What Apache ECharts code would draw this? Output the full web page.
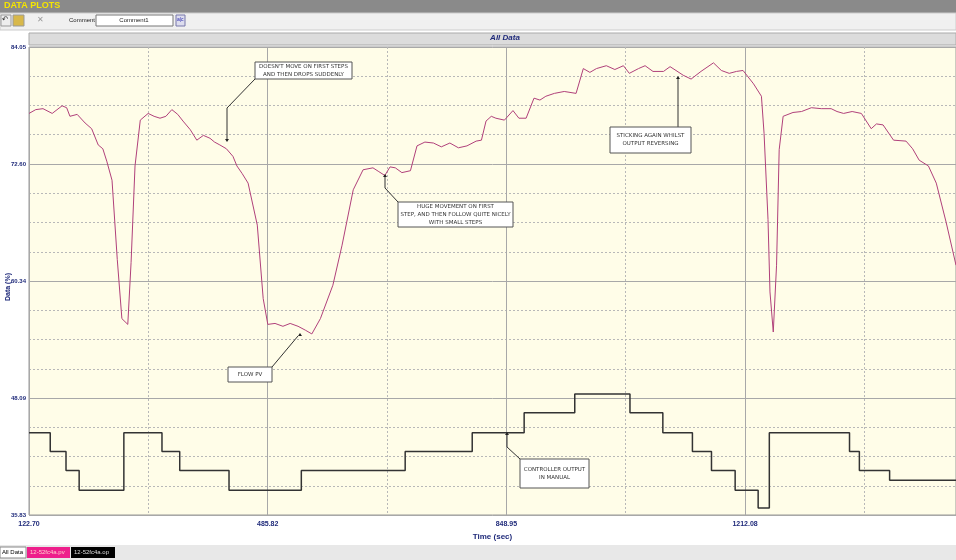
<!DOCTYPE html>
<html><head><meta charset="utf-8">
<script src="https://cdn.jsdelivr.net/npm/echarts@6/dist/echarts.min.js"></script>
<style>html,body{margin:0;padding:0;background:#fff;}#c{width:956px;height:560px;}</style>
</head><body><div id="c"></div>
<script>
const xTickLabels = ["122.70","485.82","848.95","1212.08"];
const yTickLabels = ["35.83","48.09","60.34","72.60","84.05"];
const pvTime = [122.7,133,144,158,173,180,185,196,208,218,228,235,241,249,257,264,273,278,284,292,304,313,322,331,340,349,357,368,378,388,398,405,413,423,433,439,447,456,470,479,486,497,509,520,532,543,553,566,585,599,616,631,646,655,664,672,680,690,703,713,725,738,750,763,776,789,803,811,818,826,833,846,859,868,879,891,900,909,922,937,955,966,976,986,1001,1014,1027,1036,1050,1060,1072,1088,1098,1107,1118,1130,1145,1164,1176,1188,1199,1209,1225,1237,1241,1247,1250,1255,1260,1264,1270,1285,1298,1313,1328,1343,1352,1362,1375,1389,1404,1412,1422,1438,1457,1467,1477,1491,1503,1518,1533];
const pvValue = [77.9,78.3,78.4,77.9,78.7,78.5,77.6,77.8,76.9,76.3,74.6,74.2,72.9,70.9,62.6,56.4,55.8,62.3,72.4,77.2,77.9,77.6,77.4,77.6,78.3,77.8,77.1,76.2,75.1,75.6,75.3,74.9,74.6,74.2,73.4,72.4,71.6,70.6,66.2,58.5,55.8,55.9,55.6,55.9,55.6,55.2,54.8,56.4,59.9,64.1,69.9,72.0,72.2,71.8,71.4,72.3,72.2,71.7,71.9,74.5,74.9,74.8,74.4,74.8,74.3,74.5,75.0,75.1,77.1,77.6,77.4,77.2,78.2,77.4,77.4,79.5,79.3,79.7,80.0,80.2,80.0,82.6,82.2,82.6,82.9,82.5,82.9,82.1,82.6,82.9,82.3,82.3,82.8,82.4,81.9,81.5,82.3,83.2,82.4,82.1,82.3,82.4,81.0,79.7,75.8,66.8,59.2,55.0,62.0,74.1,77.6,78.0,78.1,78.5,78.4,78.4,78.1,77.9,78.1,77.9,76.3,76.8,76.7,75.1,75.0,74.2,73.0,72.4,70.6,66.5,62.0];
const opTime = [122.7,155,179,199,267,325,352,427,537,695,797,876,953,1037,1087,1132,1161,1197,1232,1249,1371,1386,1432,1533];
const opValue = [44.45,42.48,40.5,38.43,44.45,42.48,40.5,38.43,40.5,42.48,44.45,46.53,48.5,46.53,44.45,42.48,40.5,38.43,36.56,44.45,42.48,40.5,39.47,39.47];

const chart = echarts.init(document.getElementById('c'));
const navy = '#1f2a7a';
function box(x,y,w,h,lines){
  return {type:'group',children:[
    {type:'rect',shape:{x:x,y:y,width:w,height:h},style:{fill:'#fff',stroke:'#555',lineWidth:1},z:100},
    {type:'text',x:x+w/2,y:y+h/2,style:{text:lines.join('\n'),font:'5.5px "DejaVu Sans"',fill:'#333',align:'center',verticalAlign:'middle',lineHeight:8},z:101}
  ]};
}
function line(pts){return {type:'polyline',shape:{points:pts},style:{stroke:'#333',lineWidth:1,fill:null},z:100};}
function arrow(x,y,dir){
  return {type:'polygon',shape:{points:[[x-2,y-3*dir],[x+2,y-3*dir],[x,y]]},style:{fill:'#222'},z:100};
}
chart.setOption({
  animation:false,
  backgroundColor:'#fff',
  grid:{left:29,right:0,top:47,bottom:45,containLabel:false,outerBoundsMode:'none',show:true,backgroundColor:'#fffde8',borderColor:'#999',borderWidth:1},
  xAxis:{type:'value',min:122.7,max:1533,interval:363.13,
    name:'Time (sec)',nameLocation:'middle',nameGap:16,nameTextStyle:{color:navy,fontSize:8,fontWeight:'bold',fontFamily:'Liberation Sans'},
    axisLine:{show:false},axisTick:{show:false},
    axisLabel:{color:navy,fontSize:7,fontWeight:'bold',fontFamily:'Liberation Sans',margin:6,showMaxLabel:false,
      formatter:function(v){const i=Math.round((v-122.7)/363.13);return xTickLabels[i]||'';}},
    splitLine:{show:true,lineStyle:{color:'#a8a8a8',width:1}},
    minorTick:{show:false,splitNumber:2},
    minorSplitLine:{show:true,lineStyle:{color:'#b8b8b8',type:[2,2],width:1}}},
  yAxis:{type:'value',min:35.83,max:84.86,interval:12.2575,
    axisLine:{show:false},axisTick:{show:false},
    axisLabel:{color:navy,fontSize:6,fontWeight:'bold',fontFamily:'Liberation Sans',margin:3,
      formatter:function(v){const i=Math.round((v-35.83)/12.2575);return yTickLabels[i]||'';}},
    splitLine:{show:true,lineStyle:{color:'#a8a8a8',width:1}},
    minorTick:{show:false,splitNumber:4},
    minorSplitLine:{show:true,lineStyle:{color:'#b8b8b8',type:[2,2],width:1}}},
  series:[
    {type:'line',name:'12-52fc4a.pv',data:pvTime.map((t,i)=>[t,pvValue[i]]),showSymbol:false,lineStyle:{color:'#b0407a',width:1},z:5},
    {type:'line',name:'12-52fc4a.op',step:'end',data:opTime.map((t,i)=>[t,opValue[i]]),showSymbol:false,lineStyle:{color:'#333',width:1.5},z:5}
  ],
  graphic:[
    {type:'rect',shape:{x:0,y:0,width:956,height:13},style:{fill:'#8a8a8a'}},
    {type:'text',x:4,y:1,style:{text:'DATA PLOTS',font:'bold 9px "Liberation Sans"',fill:'#f5e500'}},
    {type:'rect',shape:{x:0,y:13,width:956,height:17},style:{fill:'#f0f0f0',stroke:'#ccc'}},
    {type:'rect',shape:{x:1,y:15,width:10,height:11},style:{fill:'#eee',stroke:'#999'}},
    {type:'text',x:2,y:16,style:{text:'↶',font:'8px "DejaVu Sans"',fill:'#333'}},
    {type:'rect',shape:{x:13,y:15,width:11,height:11},style:{fill:'#d8b84a',stroke:'#999'}},
    {type:'text',x:37,y:16,style:{text:'✕',font:'8px "DejaVu Sans"',fill:'#999'}},
    {type:'text',x:69,y:17,style:{text:'Comment',font:'6px "Liberation Sans"',fill:'#222'}},
    {type:'rect',shape:{x:96,y:15,width:77,height:11},style:{fill:'#fff',stroke:'#777'}},
    {type:'text',x:134,y:17,style:{text:'Comment1',font:'6px "Liberation Sans"',fill:'#222',align:'center'}},
    {type:'rect',shape:{x:176,y:15,width:9,height:11},style:{fill:'#dde',stroke:'#77a'}},
    {type:'text',x:177,y:17,style:{text:'a|c',font:'5px "Liberation Sans"',fill:'#22a'}},
    {type:'rect',shape:{x:29,y:33,width:927,height:12},style:{fill:'#dcdcdc',stroke:'#aaa'}},
    {type:'text',x:505,y:34,style:{text:'All Data',font:'italic bold 8px "Liberation Sans"',fill:navy,align:'center'}},
    {type:'text',x:8,y:287,rotation:Math.PI/2,style:{text:'Data (%)',font:'bold 7px "Liberation Sans"',fill:navy,align:'center',verticalAlign:'middle'}},
    {type:'rect',shape:{x:0,y:545,width:956,height:15},style:{fill:'#e8e8e8'}},
    {type:'rect',shape:{x:0,y:547,width:26,height:11},style:{fill:'#fff',stroke:'#888'}},
    {type:'text',x:2,y:549,style:{text:'All Data',font:'6px "Liberation Sans"',fill:'#000'}},
    {type:'rect',shape:{x:27,y:547,width:43,height:11},style:{fill:'#ee1f8c'}},
    {type:'text',x:30,y:549,style:{text:'12-52fc4a.pv',font:'6px "Liberation Sans"',fill:'#fcc'}},
    {type:'rect',shape:{x:71,y:547,width:44,height:11},style:{fill:'#000'}},
    {type:'text',x:74,y:549,style:{text:'12-52fc4a.op',font:'6px "Liberation Sans"',fill:'#ddd'}},
    line([[255,79],[227,108],[227,139]]), arrow(227,142,1),
    box(255,62,97,17,["DOESN'T MOVE ON FIRST STEPS","AND THEN DROPS SUDDENLY"]),
    line([[385,177],[385,188],[398,202]]), arrow(385,174,-1),
    box(398,202,115,25,["HUGE MOVEMENT ON FIRST","STEP, AND THEN FOLLOW QUITE NICELY","WITH SMALL STEPS"]),
    line([[678,127],[678,79]]), arrow(678,76,-1),
    box(610,127,81,26,["STICKING AGAIN WHILST","OUTPUT REVERSING"]),
    line([[272,367],[298,336]]), arrow(300,333,-1),
    box(228,367,44,15,["FLOW PV"]),
    line([[520,459],[507,447],[507,435]]), arrow(507,432,-1),
    box(520,459,69,29,["CONTROLLER OUTPUT","IN MANUAL"])
  ]
});
</script></body></html>
